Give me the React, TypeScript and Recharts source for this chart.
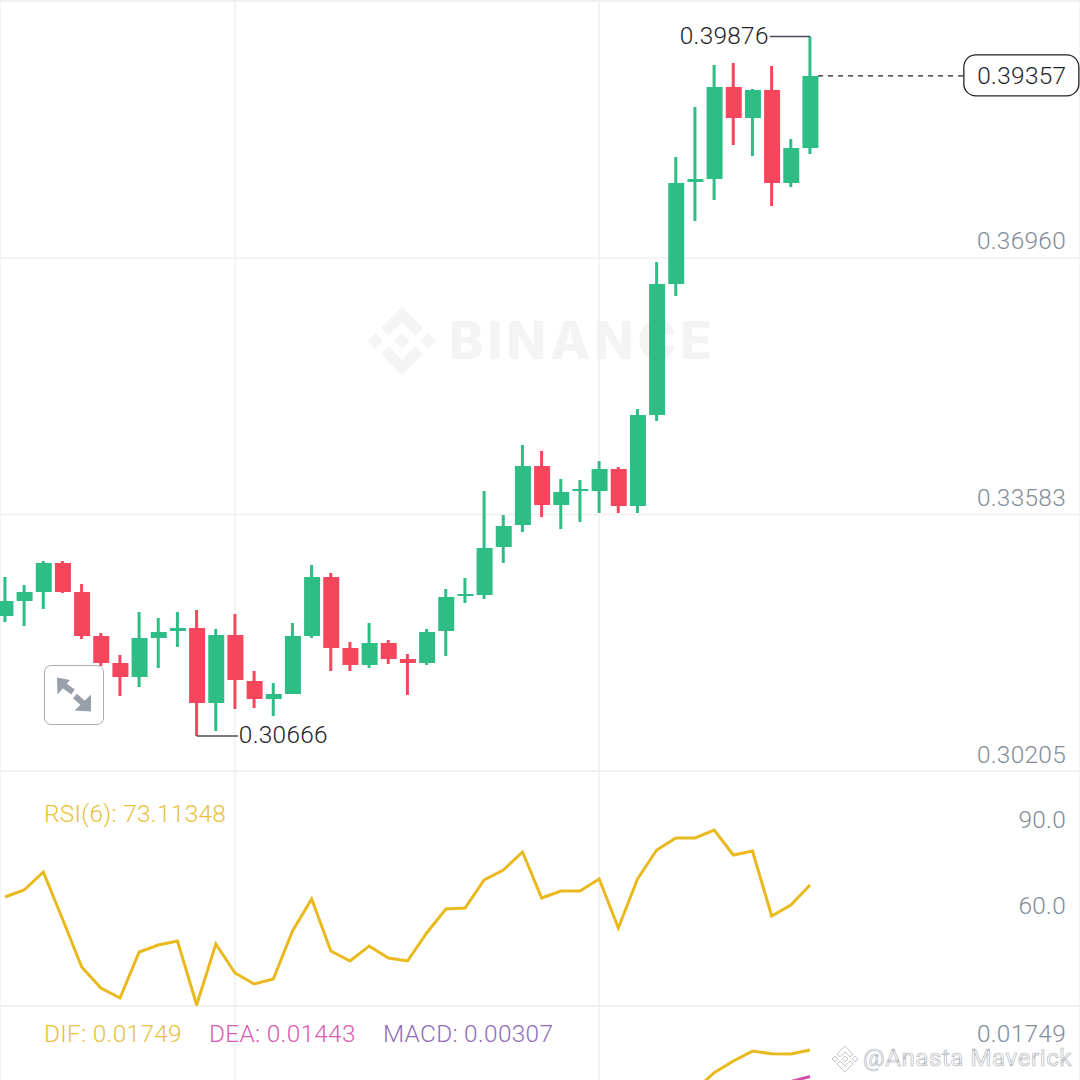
import React from "react";
import {
  Bar,
  CartesianGrid,
  Cell,
  ComposedChart,
  Line,
  LineChart,
  ReferenceDot,
  ReferenceLine,
  XAxis,
  YAxis,
} from "recharts";

const opens = [
  0.32246, 0.32443, 0.32562, 0.32944, 0.32562, 0.31982, 0.31627, 0.31443, 0.31956, 0.32048, 0.32088,
  0.311, 0.31996, 0.3139, 0.31153, 0.31219, 0.31982, 0.32759, 0.31824, 0.31601, 0.3189, 0.3168,
  0.31627, 0.32048, 0.32509, 0.32522, 0.33154, 0.33444, 0.34221, 0.33707, 0.33891, 0.33891, 0.34181,
  0.33694, 0.34892, 0.36617, 0.3796, 0.37999, 0.39211, 0.38802, 0.39171, 0.37947, 0.38407,
];
const closes = [
  0.32443, 0.32562, 0.32944, 0.32562, 0.31982, 0.31627, 0.31443, 0.31956, 0.32035, 0.32088, 0.311,
  0.31996, 0.31403, 0.31153, 0.31219, 0.31982, 0.32759, 0.31824, 0.31601, 0.3189, 0.3168, 0.31627,
  0.32035, 0.32496, 0.32535, 0.33141, 0.33431, 0.34221, 0.33707, 0.33878, 0.33918, 0.34181, 0.33694,
  0.34892, 0.36617, 0.37947, 0.37999, 0.39211, 0.38802, 0.39171, 0.37947, 0.38407, 0.39357,
];
const highs = [
  0.32759, 0.32654, 0.3297, 0.3297, 0.32667, 0.32022, 0.31732, 0.32298, 0.32219, 0.32298, 0.32325,
  0.32075, 0.32272, 0.31522, 0.31364, 0.32154, 0.32917, 0.32812, 0.31903, 0.32154, 0.3193, 0.31745,
  0.32075, 0.32601, 0.32746, 0.33891, 0.33575, 0.34497, 0.34418, 0.34049, 0.34036, 0.34286, 0.34207,
  0.34971, 0.36906, 0.38289, 0.38947, 0.395, 0.39527, 0.39184, 0.39487, 0.38526, 0.39876,
];
const lows = [
  0.32167, 0.32114, 0.32338, 0.32549, 0.31943, 0.31587, 0.31192, 0.31311, 0.31561, 0.31838, 0.30666,
  0.30732, 0.31021, 0.31034, 0.30929, 0.31219, 0.31956, 0.31522, 0.31522, 0.31561, 0.31614, 0.31206,
  0.31601, 0.31719, 0.32417, 0.3247, 0.32944, 0.33352, 0.33549, 0.33391, 0.33483, 0.33602, 0.33602,
  0.33602, 0.34813, 0.36459, 0.37446, 0.37723, 0.38447, 0.38302, 0.37644, 0.37894, 0.38328,
];
const rsi = [
  68.92, 71.37, 77.64, 61.25, 44.51, 37.18, 33.7, 49.74, 52.18, 53.58, 31.25, 52.53, 42.42, 38.58,
  40.32, 57.07, 68.23, 50.09, 46.6, 51.83, 47.65, 46.6, 56.37, 64.74, 65.09, 74.85, 78.34, 84.62,
  68.58, 71.02, 71.02, 75.2, 58.11, 75.2, 85.32, 89.5, 89.5, 92.29, 83.57, 84.97, 62.3, 66.13, 73.11,
];
const difIndex = [36, 37, 38, 39, 40, 41, 42];
const dif = [0.01287, 0.01487, 0.01622, 0.01737, 0.01706, 0.01703, 0.01749];
const deaIndex = [41, 42];
const dea = [0.01385, 0.01443];

const priceTicks = [0.30205, 0.33583, 0.3696];
const rsiTicks = [60, 90];
const macdTicks = [0.01749];
const gridX = [12, 31];

const UP = "#2EBD85";
const DOWN = "#F6465D";
const GRID = "#EEF0F2";
const FONT = "Roboto, sans-serif";
const TEXT_SIZE = 24.4;
const TRACKING = 0.3;
const X_DOMAIN: [number, number] = [-0.261, 56.086];

const rows = opens.map((open, i) => ({
  i,
  open,
  close: closes[i],
  body: [Math.min(open, closes[i]), Math.max(open, closes[i])],
  wick: [lows[i], highs[i]],
  rsi: rsi[i],
}));

const macdRows = opens.map((_, i) => ({
  i,
  dif: difIndex.includes(i) ? dif[difIndex.indexOf(i)] : null,
  dea: deaIndex.includes(i) ? dea[deaIndex.indexOf(i)] : null,
}));

const axisTick = (digits: number) => (props: any) => (
  <text
    x={props.x}
    y={props.y - 17}
    textAnchor="end"
    dominantBaseline="central"
    fontFamily={FONT}
    fontWeight={300}
    fontSize={TEXT_SIZE}
    letterSpacing={TRACKING}
    fill="#848C97"
  >
    {Number(props.payload.value).toFixed(digits)}
  </text>
);

const priceText = (text: string, anchor: "start" | "end") => (props: any) => (
  <text
    x={props.cx}
    y={props.cy - 1}
    textAnchor={anchor}
    dominantBaseline="central"
    fontFamily={FONT}
    fontWeight={300}
    fontSize={TEXT_SIZE}
    letterSpacing={TRACKING}
    fill="#1E2329"
  >
    {text}
  </text>
);

const PricePill = (props: any) => (
  <g>
    <rect x={props.cx - 57} y={props.cy - 21} width={115} height={41} rx={12} fill="#fff" stroke="#1E2329" strokeWidth={1.3} />
    <text
      x={props.cx + 1}
      y={props.cy}
      textAnchor="middle"
      dominantBaseline="central"
      fontFamily={FONT}
      fontWeight={300}
      fontSize={TEXT_SIZE}
      letterSpacing={TRACKING}
      fill="#1E2329"
    >
      {closes[closes.length - 1].toFixed(5)}
    </text>
  </g>
);

function Logo({ size, style, fill, stroke }: { size: number; style: React.CSSProperties; fill: string; stroke?: string }) {
  return (
    <svg width={size} height={size} viewBox="0 0 126.61 126.61" style={{ position: "absolute", ...style }}>
      <g fill={fill} stroke={stroke} strokeWidth={stroke ? 4 : 0}>
        <path d="M38.73 53.2l24.59-24.58 24.6 24.6 14.3-14.31L63.32 0 24.42 38.9z" />
        <path d="M0 63.31l14.3-14.31 14.31 14.31-14.31 14.3z" />
        <path d="M38.73 73.41l24.59 24.59 24.6-24.6 14.31 14.29-38.9 38.91-38.91-38.88z" />
        <path d="M98 63.31l14.3-14.31 14.31 14.31-14.31 14.3z" />
        <path d="M77.83 63.3L63.32 48.78 52.59 59.51l-1.24 1.23-2.54 2.54 14.51 14.5 14.51-14.47z" />
      </g>
    </svg>
  );
}

function Caption({ x, y, color, children }: { x: number; y: number; color: string; children: string }) {
  return (
    <div
      style={{
        position: "absolute",
        left: x,
        top: y - 15,
        height: 30,
        lineHeight: "30px",
        fontFamily: FONT,
        fontWeight: 300,
        fontSize: TEXT_SIZE,
        letterSpacing: TRACKING,
        color,
        whiteSpace: "nowrap",
      }}
    >
      {children}
    </div>
  );
}

function Rule({ y, height = 2 }: { y: number; height?: number }) {
  return <div style={{ position: "absolute", left: 0, top: y, width: 1080, height, background: GRID }} />;
}

export default function App() {
  return (
    <div style={{ position: "absolute", left: 0, top: 0, width: 1080, height: 1080, overflow: "hidden", background: "#fff" }}>
      <Logo size={68} fill="#F4F4F5" style={{ left: 368, top: 307 }} />
      <div
        style={{
          position: "absolute",
          left: 449,
          top: 311,
          fontFamily: "Inter, sans-serif",
          fontWeight: 800,
          fontSize: 52,
          lineHeight: "60px",
          letterSpacing: 3.9,
          color: "#F4F4F5",
        }}
      >
        BINANCE
      </div>

      <Rule y={0} />
      <Rule y={770} />
      <Rule y={1005} />

      <div style={{ position: "absolute", left: 0, top: 0 }}>
        <ComposedChart width={1080} height={771} data={rows} margin={{ top: 0, right: 0, bottom: 0, left: 0 }}>
          <CartesianGrid stroke={GRID} strokeWidth={1.5} />
          <XAxis hide type="number" dataKey="i" domain={X_DOMAIN} ticks={gridX} allowDataOverflow />
          <XAxis hide type="number" dataKey="i" xAxisId="wick" domain={X_DOMAIN} allowDataOverflow />
          <YAxis
            orientation="right"
            mirror
            domain={[0.30205, 0.40356]}
            ticks={priceTicks}
            interval={0}
            axisLine={false}
            tickLine={false}
            tickMargin={8}
            tick={axisTick(5)}
            allowDataOverflow
          />
          <Bar dataKey="wick" xAxisId="wick" barSize={3} isAnimationActive={false}>
            {rows.map((r) => (
              <Cell key={r.i} fill={r.close >= r.open ? UP : DOWN} />
            ))}
          </Bar>
          <Bar dataKey="body" barSize={16} minPointSize={2} isAnimationActive={false}>
            {rows.map((r) => (
              <Cell key={r.i} fill={r.close >= r.open ? UP : DOWN} />
            ))}
          </Bar>
          <ReferenceLine
            segment={[
              { x: 42.42, y: closes[42] },
              { x: 50, y: closes[42] },
            ]}
            stroke="#1E2329"
            strokeWidth={1.3}
            strokeDasharray="5 5"
          />
          <ReferenceLine
            segment={[
              { x: 39.9, y: highs[42] },
              { x: 42, y: highs[42] },
            ]}
            stroke="#474D57"
            strokeWidth={1.5}
          />
          <ReferenceLine
            segment={[
              { x: 10, y: lows[10] },
              { x: 12.15, y: lows[10] },
            ]}
            stroke="#474D57"
            strokeWidth={1.5}
          />
          <ReferenceDot x={39.85} y={highs[42]} shape={priceText(highs[42].toFixed(5), "end")} />
          <ReferenceDot x={12.2} y={lows[10]} shape={priceText(lows[10].toFixed(5), "start")} />
          <ReferenceDot x={53} y={closes[42]} shape={PricePill} />
        </ComposedChart>
      </div>

      <div style={{ position: "absolute", left: 0, top: 771 }}>
        <LineChart width={1080} height={235} data={rows} margin={{ top: 0, right: 0, bottom: 0, left: 0 }}>
          <CartesianGrid stroke={GRID} strokeWidth={1.5} horizontal={false} />
          <XAxis hide type="number" dataKey="i" domain={X_DOMAIN} ticks={gridX} allowDataOverflow />
          <YAxis
            orientation="right"
            mirror
            domain={[30.9, 112.87]}
            ticks={rsiTicks}
            interval={0}
            axisLine={false}
            tickLine={false}
            tickMargin={8}
            tick={axisTick(1)}
            allowDataOverflow
          />
          <Line dataKey="rsi" stroke="#E9B91E" strokeWidth={3} dot={false} isAnimationActive={false} />
        </LineChart>
      </div>

      <div style={{ position: "absolute", left: 0, top: 1006 }}>
        <LineChart width={1080} height={74} data={macdRows} margin={{ top: 0, right: 0, bottom: 0, left: 0 }}>
          <CartesianGrid stroke={GRID} strokeWidth={1.5} horizontal={false} />
          <XAxis hide type="number" dataKey="i" domain={X_DOMAIN} ticks={gridX} allowDataOverflow />
          <YAxis
            orientation="right"
            mirror
            domain={[0.01403, 0.02257]}
            ticks={macdTicks}
            interval={0}
            axisLine={false}
            tickLine={false}
            tickMargin={8}
            tick={axisTick(5)}
            allowDataOverflow
          />
          <Line dataKey="dif" stroke="#E9B91E" strokeWidth={3} dot={false} isAnimationActive={false} />
          <Line dataKey="dea" stroke="#D64FA8" strokeWidth={3} dot={false} isAnimationActive={false} />
        </LineChart>
      </div>

      <Caption x={44} y={814} color="#E8BF3E">RSI(6): 73.11348</Caption>
      <Caption x={44} y={1034} color="#E8BF3E">DIF: 0.01749</Caption>
      <Caption x={209} y={1034} color="#D85DB0">DEA: 0.01443</Caption>
      <Caption x={383} y={1034} color="#8F6DBB">MACD: 0.00307</Caption>

      <div style={{ position: "absolute", left: 44, top: 665, width: 58, height: 58, border: "1.5px solid #A8AEB6", borderRadius: 7, background: "#fff" }}>
        <svg width={58} height={58} style={{ position: "absolute", left: 0, top: 0 }}>
          <path d="M12 11.5 L25 14 L12.5 28.5 Z M46 45.5 L46 28.5 L29.5 44.5 Z" fill="#9AA0A9" />
          <path d="M17 18 L28 26 M30 30 L40 39" stroke="#9AA0A9" strokeWidth={6} />
        </svg>
      </div>

      <Logo size={26} fill="#fff" stroke="#B3B7BD" style={{ left: 832, top: 1046 }} />
      <svg width={220} height={40} style={{ position: "absolute", left: 860, top: 1038 }}>
        <text x={3} y={28} fontFamily={FONT} fontSize={24} fill="#fff" stroke="#B3B7BD" strokeWidth={0.7} letterSpacing={0.6}>
          @Anasta Maverick
        </text>
      </svg>
    </div>
  );
}
